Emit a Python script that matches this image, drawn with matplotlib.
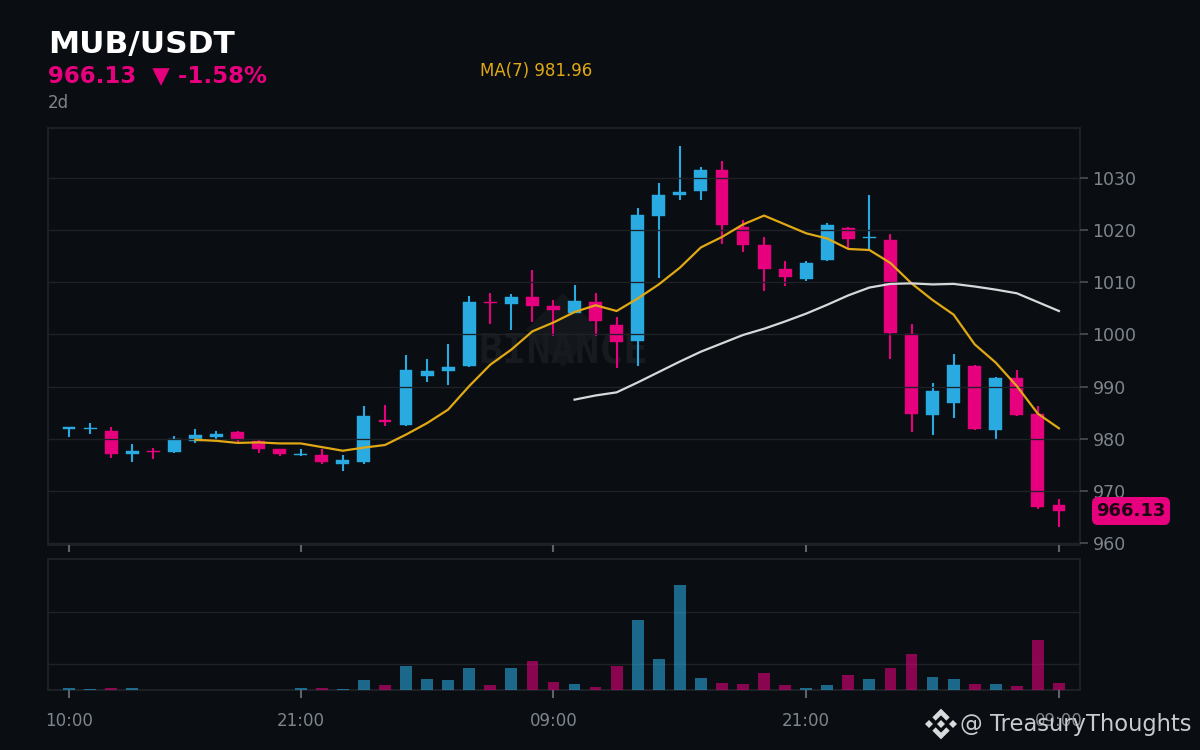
import matplotlib
matplotlib.use("Agg")
import matplotlib.pyplot as plt
from matplotlib.lines import Line2D
from matplotlib.patches import FancyBboxPatch
from matplotlib.transforms import IdentityTransform

BG = "#0a0e12"
GRID = "#1e2227"
UP = "#29abe2"
DOWN = "#e6007e"
GOLD = "#e0a814"
WHITE_MA = "#d6d8da"
GRAY = "#7f858d"

opens = [981.8, 981.9, 981.4, 977.0, 977.65, 977.4, 979.5, 980.4, 981.2, 979.5, 978.1, 976.8,
         976.8, 975.1, 975.6, 983.5, 982.7, 992.1, 992.9, 993.9, 1006.3, 1005.9, 1007.1, 1005.5,
         1004.2, 1006.3, 1001.9, 998.8, 1022.8, 1026.8, 1027.6, 1031.6, 1020.7, 1017.2, 1012.6, 1010.7,
         1014.2, 1020.5, 1018.5, 1018.2, 1000.0, 984.6, 986.9, 994.0, 981.6, 991.7, 984.8, 967.2]
closes = [982.2, 982.1, 977.0, 977.7, 977.4, 979.9, 980.8, 981.0, 979.7, 978.1, 977.0, 977.0,
          975.6, 976.0, 984.3, 983.3, 993.1, 992.9, 993.7, 1006.3, 1006.1, 1007.1, 1005.4, 1004.6,
          1006.5, 1002.5, 998.6, 1023.0, 1026.8, 1027.4, 1031.6, 1020.9, 1017.2, 1012.5, 1011.1, 1013.8,
          1020.9, 1018.4, 1018.7, 1000.2, 984.8, 989.1, 994.2, 981.8, 991.7, 984.6, 967.0, 966.13]
highs = [982.3, 983.1, 982.2, 978.9, 978.3, 980.6, 981.8, 981.4, 981.4, 979.9, 978.1, 978.1,
         978.1, 976.8, 986.2, 986.4, 996.1, 995.2, 998.1, 1007.3, 1007.9, 1007.7, 1012.3, 1006.7,
         1009.4, 1007.9, 1003.4, 1024.3, 1029.0, 1036.2, 1032.2, 1033.2, 1021.9, 1018.6, 1014.0, 1014.0,
         1021.3, 1020.7, 1026.8, 1019.2, 1002.1, 990.6, 996.3, 994.2, 991.9, 993.1, 986.2, 968.5]
lows = [980.4, 981.0, 976.4, 975.6, 976.2, 977.2, 979.1, 979.9, 979.3, 977.2, 976.6, 976.6,
        975.2, 973.9, 975.2, 982.5, 982.5, 990.8, 990.4, 993.7, 1002.1, 1000.8, 1002.3, 999.8,
        1004.2, 999.8, 993.5, 994.0, 1010.9, 1025.7, 1025.7, 1017.4, 1015.9, 1008.4, 1009.2, 1010.3,
        1014.0, 1016.5, 1016.3, 995.2, 981.2, 980.8, 983.9, 981.6, 979.9, 984.4, 966.6, 963.0]
volumes = [2.3, 0.9, 2.3, 2.3, 0.2, 0.3, 0.2, 0.2, 0.2, 0.2, 0.2, 2.3,
           2.3, 0.9, 10.5, 5.5, 24.5, 11.5, 10.5, 22.5, 5.5, 22.5, 29.5, 8.5,
           6.5, 3.5, 24.5, 70.5, 31.5, 105.5, 12.5, 7.5, 6.5, 17.5, 5.5, 2.5,
           5.5, 15.5, 11.5, 22.5, 36.5, 13.5, 11.5, 6.5, 6.5, 4.5, 50.5, 7.5]
ma7 = [979.8, 979.6, 979.2, 979.3, 979.1, 979.1, 978.4, 977.7, 978.3, 978.8, 980.8, 983.0, 985.6,
       990.1, 994.2, 997.1, 1000.6, 1002.3, 1004.3, 1005.6, 1004.5, 1006.9, 1009.6, 1012.8, 1016.7,
       1018.7, 1021.1, 1022.8, 1021.1, 1019.4, 1018.4, 1016.4, 1016.2, 1013.7, 1009.8, 1006.6, 1003.8,
       998.1, 994.6, 990.1, 984.8, 982.0]
ma25 = [987.5, 988.3, 988.9, 990.8, 992.8, 994.8, 996.7, 998.3, 999.9, 1001.1, 1002.5, 1004.0,
        1005.7, 1007.5, 1009.0, 1009.7, 1009.8, 1009.6, 1009.7, 1009.2, 1008.6, 1007.9, 1006.2, 1004.5]
price_ticks = [960, 970, 980, 990, 1000, 1010, 1020, 1030]
time_positions = [0, 11, 23, 35, 47]
time_labels = ["10:00", "21:00", "09:00", "21:00", "09:00"]
symbol = "MUB/USDT"
last_price = "966.13"
change_text = "966.13  ▼ -1.58%"
ma_label = "MA(7) 981.96"
interval = "2d"
credit = "@ TreasuryThoughts"

W, H = 1200, 750
plt.rcParams["font.family"] = "DejaVu Sans"
fig = plt.figure(figsize=(12, 7.5), dpi=100, facecolor=BG)


def axes_at(x0, y0, x1, y1):
    return fig.add_axes([x0 / W, 1 - y1 / H, (x1 - x0) / W, (y1 - y0) / H], facecolor=BG)


ax = axes_at(48, 128, 1080, 545)
vax = axes_at(48, 559, 1080, 690)
xs = list(range(len(opens)))
colors = [UP if c >= o else DOWN for o, c in zip(opens, closes)]

# watermark
ax.plot([0.4995], [0.516], marker="D", ms=38, color="#13161a", mew=0, transform=ax.transAxes, zorder=0.5)
ax.text(0.4995, 0.463, "BINANCE", transform=ax.transAxes, ha="center", va="center", family="DejaVu Sans Mono",
        weight="bold", fontsize=29, color="#171b20", zorder=0.6)

# candles
ax.vlines(xs, lows, highs, colors=colors, linewidth=1.5, zorder=1.5)
ax.bar(xs, [abs(c - o) for o, c in zip(opens, closes)], bottom=[min(o, c) for o, c in zip(opens, closes)],
       width=0.61, color=colors, edgecolor=colors, linewidth=0.3, zorder=1.6)
ax.plot(xs[-len(ma7):], ma7, color=GOLD, lw=1.6, zorder=3)
ax.plot(xs[-len(ma25):], ma25, color=WHITE_MA, lw=1.6, zorder=3)
ax.set_xlim(-1, 48)
ax.set_ylim(959.62, 1039.6)
ax.set_yticks(price_ticks)
ax.set_xticks(time_positions)
ax.set_xticklabels([])
ax.yaxis.tick_right()
ax.set_axisbelow(False)
ax.grid(axis="y", color=GRID, lw=0.95, zorder=2)
ax.tick_params(axis="y", colors=GRAY, labelsize=12.5, length=6, width=1.2, pad=3, color="#4a4f56")
ax.tick_params(axis="x", colors="#5e636b", length=5, width=1.5, pad=2)

# volume
vax.bar(xs, volumes, width=0.56, color=colors, alpha=0.58, linewidth=0, zorder=2.6)
vax.set_xlim(-1, 48)
vax.set_ylim(0, 131)
vax.set_yticks([26, 78])
vax.set_yticklabels([])
vax.set_xticks(time_positions)
vax.set_xticklabels(time_labels)
vax.set_axisbelow(False)
vax.grid(axis="y", color=GRID, lw=0.95, zorder=2)
vax.tick_params(axis="y", length=0)
vax.tick_params(axis="x", colors=GRAY, labelsize=12, length=6, width=1.5, pad=10, color="#5e636b")

for a in (ax, vax):
    for s in a.spines.values():
        s.set_color("#1e2227")
        s.set_linewidth(1.4)
        s.set_zorder(2.2)


def T(x, y, s, **kw):
    return fig.text(x / W, 1 - y / H, s, **kw)


T(48, 44, symbol, color="white", weight="bold", fontsize=22.5, va="center", ha="left")
T(48, 76, change_text, color=DOWN, weight="bold", fontsize=16.5, va="center", ha="left")
T(48, 103, interval, color=GRAY, fontsize=12, va="center", ha="left")
T(480, 71, ma_label, color=GOLD, fontsize=12, va="center", ha="left")

# last-price tag
tag = FancyBboxPatch((1092, H - 525), 78, 28, boxstyle="round,pad=0,rounding_size=6",
                     transform=IdentityTransform(), facecolor=DOWN, edgecolor="none", zorder=5)
fig.add_artist(tag)
T(1131, 510.5, last_price, color="#1a0610", weight="bold", fontsize=13, va="center", ha="center", zorder=6)

# credit
LOGO = "#d9dadb"
for dx, dy, ms in [(-12, 0, 4.2), (12, 0, 4.2), (0, 0, 4.2)]:
    fig.add_artist(Line2D([(941 + dx) / W], [1 - (724 + dy) / H], marker="D", ms=ms, mew=0, color=LOGO,
                          transform=fig.transFigure, zorder=6))
for sgn in (-1, 1):
    fig.add_artist(Line2D([934 / W, 941 / W, 948 / W],
                          [1 - (724 + sgn * 5) / H, 1 - (724 + sgn * 12) / H, 1 - (724 + sgn * 5) / H],
                          lw=3.4, color=LOGO, solid_joinstyle="miter", solid_capstyle="butt",
                          transform=fig.transFigure, zorder=6))
T(1191, 725, credit, color="#d4d6d8", fontsize=16.3, va="center", ha="right", zorder=6, alpha=0.95)

fig.savefig("out.png", dpi=100, facecolor=BG)
